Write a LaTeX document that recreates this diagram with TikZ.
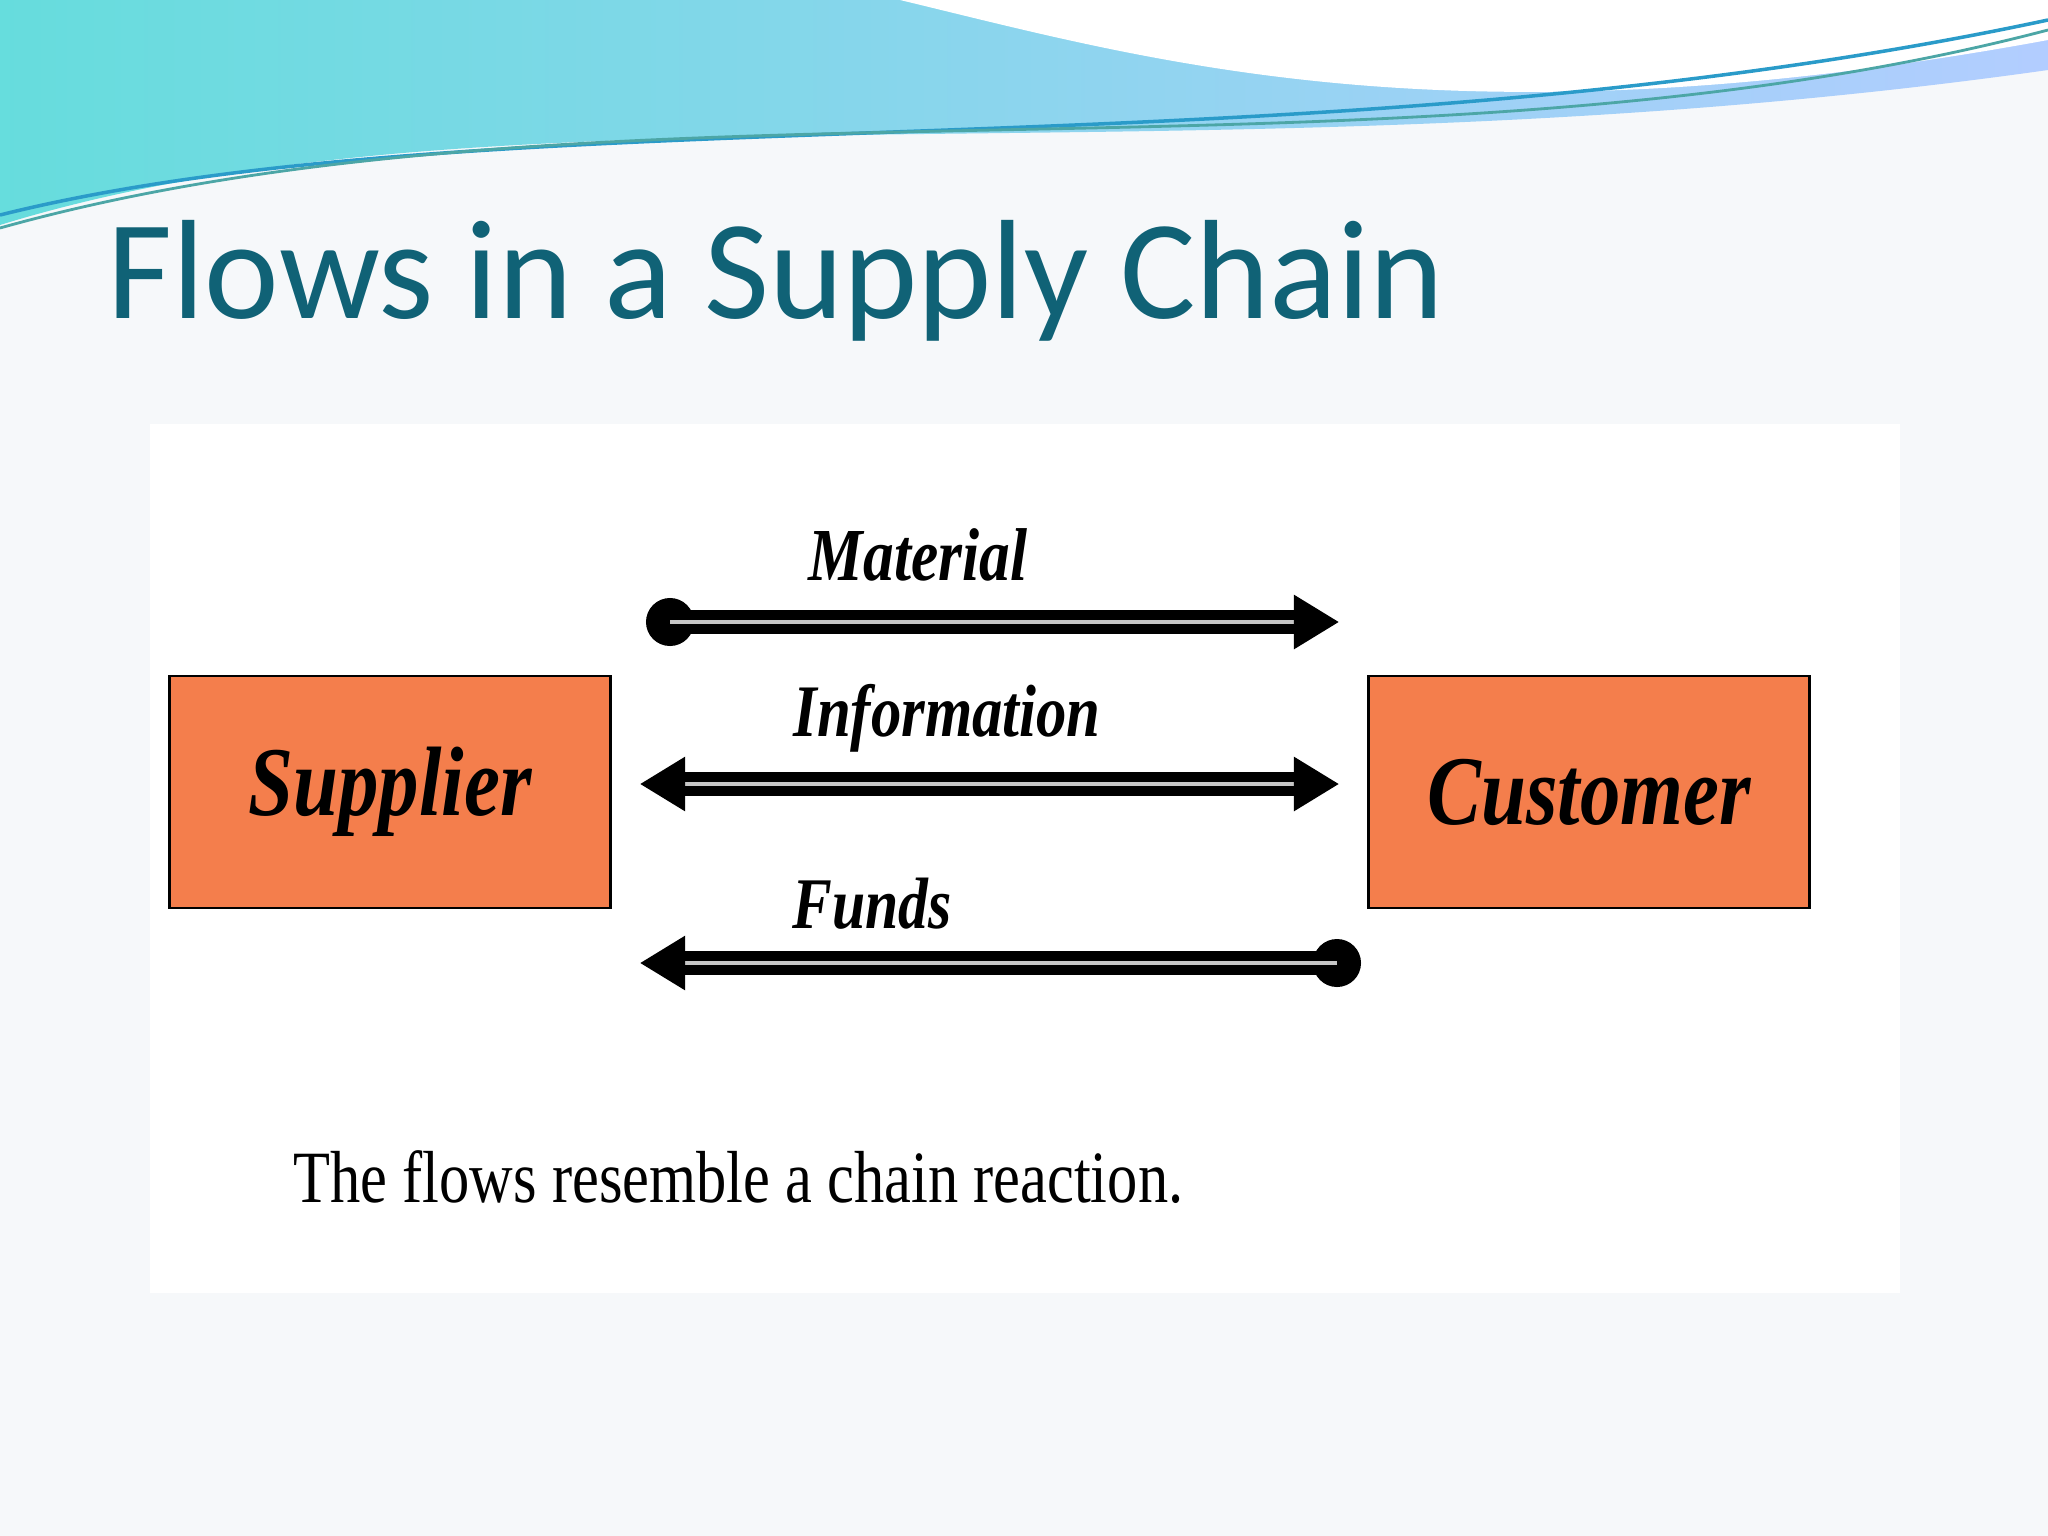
\documentclass[tikz,border=0pt]{standalone}
\usepackage{fontspec}
\setmainfont{Liberation Serif}
\newfontfamily\titlefont{Carlito}
\usetikzlibrary{arrows.meta}
\definecolor{titlecol}{RGB}{16,98,118}
\definecolor{boxfill}{RGB}{244,126,76}
\definecolor{bgcol}{RGB}{246,248,250}
\newcommand{\tallbox}[2]{\scalebox{1}[1.22]{\resizebox{#1}{!}{#2}}}
\tikzset{
  flow/.style={line width=2.6pt,double=gray!45,double distance=1.4pt,
    draw=black},
  tipR/.style={-{Triangle[length=0.45cm,width=0.52cm]}},
  tipLR/.style={{Triangle[length=0.45cm,width=0.52cm]}-{Triangle[length=0.45cm,width=0.52cm]}},
  dot/.style={circle,fill=black,minimum size=0.48cm,inner sep=0pt},
  party/.style={draw=black,line width=0.8pt,fill=boxfill,minimum width=4.4cm,minimum height=2.32cm,inner sep=0pt},
  flowlbl/.style={inner sep=0pt,font=\bfseries\itshape},
}
\begin{document}
\begin{tikzpicture}[x=0.01cm,y=-0.01cm]
\useasboundingbox (0,0) rectangle (2048,1536);
\fill[bgcol] (0,0) rectangle (2048,1536);
% top wave
\shade[left color=cyan!55!teal!60!white,right color=cyan!35!blue!30!white]
  (0,0) -- (0,225) .. controls (500,70) and (1200,190) .. (2048,70) -- (2048,0) -- cycle;
\fill[white] (900,0) .. controls (1150,60) and (1450,150) .. (2048,40) -- (2048,0) -- cycle;
\draw[cyan!60!teal,line width=1pt] (0,215) .. controls (500,90) and (1300,180) .. (2048,20);
\draw[teal!70,line width=0.8pt] (0,228) .. controls (600,60) and (1400,200) .. (2048,30);
% title
\node[anchor=base west,text=titlecol,inner sep=0pt] (title) at (107,318) {\resizebox{13.36cm}{!}{\titlefont Flows in a Supply Chain}};
% panel
\fill[white] (150,424) rectangle (1900,1293);
% boxes
\node[party] (sup) at (390,792) {\raisebox{-0.1cm}{\tallbox{2.83cm}{\bfseries\itshape Supplier}}};
\node[party] (cus) at (1589,792) {\raisebox{-0.1cm}{\tallbox{3.23cm}{\bfseries\itshape Customer}}};
% material
\node[dot] (m1) at (670,622) {};
\coordinate (m2) at (1339,622);
\draw[flow,tipR] (m1.center) -- (m2);
\node[flowlbl] (ml) at (918,555) {\tallbox{2.18cm}{Material}};
% information
\coordinate (i1) at (640,784);
\coordinate (i2) at (1339,784);
\draw[flow,tipLR] (i1) -- (i2);
\node[flowlbl] (il) at (947,718) {\tallbox{3.07cm}{Information}};
% funds
\node[dot] (f1) at (1337,963) {};
\coordinate (f2) at (640,963);
\draw[flow,tipR] (f1.center) -- (f2);
\node[flowlbl] (fl) at (872,904) {\tallbox{1.59cm}{Funds}};
% caption
\node[anchor=base west,inner sep=0pt] (cap) at (293,1202) {\tallbox{8.89cm}{The flows resemble a chain reaction.}};
\end{tikzpicture}
\end{document}
